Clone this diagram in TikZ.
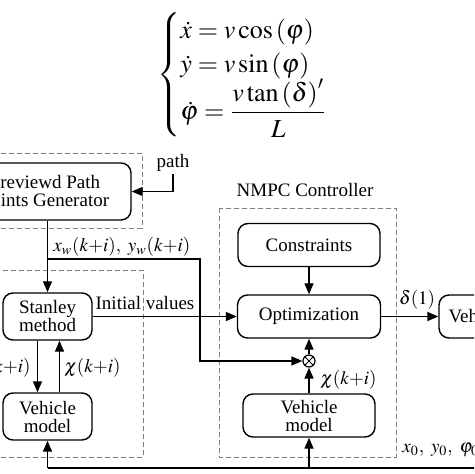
\documentclass[tikz,border=0pt]{standalone}
\usepackage{amsmath}
\usepackage{mathptmx}
\usepackage{fontspec}
\setmainfont{Liberation Serif}
\usetikzlibrary{arrows.meta}

\tikzset{
  blk/.style={draw, rounded corners=5pt, line width=0.7pt, align=center, inner sep=1pt, font=\fontsize{9.5}{9}\selectfont},
  grp/.style={draw=gray, dash pattern=on 2.5pt off 1.5pt, line width=0.4pt},
  arr/.style={-{Triangle[length=5.5pt,width=4.5pt]}, line width=0.7pt},
  lin/.style={line width=0.7pt},
  lbl/.style={font=\fontsize{9.5}{11}\selectfont, inner sep=1pt},
  mix/.style={circle, draw, line width=0.6pt, minimum size=6pt, inner sep=0pt,
    path picture={\draw[line width=0.5pt] (path picture bounding box.north west) -- (path picture bounding box.south east)
      (path picture bounding box.north east) -- (path picture bounding box.south west);}}
}

\begin{document}
\begin{tikzpicture}[x=0.5pt,y=-0.5pt]
\clip (0,0) rectangle (474,474);
\pgfmathsetmacro\lx{47.5};
\pgfmathsetmacro\rx{309};
% model equations
\node[anchor=west, inner sep=0pt, font=\fontsize{13}{15}\selectfont] (eq) at (157,75)
  {\renewcommand\arraystretch{0.8}$\begin{cases}\dot{x} = v\cos{(\varphi)}\\[-1pt] \dot{y} = v\sin{(\varphi)}\\[-2pt] \dot{\varphi} = \dfrac{v\tan{(\delta)}'}{L}\end{cases}$};
% dashed groups
\draw[grp] (-20,153) rectangle (142,228);
\draw[grp] (-20,270) rectangle (143,457);
\draw[grp] (219,208) rectangle (396,457);
\node[lbl] (nmpc) at (305,190) {NMPC Controller};
% blocks
\node[blk, minimum width=86pt, minimum height=28.5pt] (pg) at (45,191.5) {Previewd Path\\Points Generator};
\node[blk, minimum width=44.5pt, minimum height=23.5pt] (st) at (\lx,316.5) {Stanley\\method};
\node[blk, minimum width=44.5pt, minimum height=23.5pt] (vl) at (\lx,416.5) {Vehicle\\model};
\node[blk, minimum width=71pt, minimum height=21.5pt] (cs) at (\rx,245) {Constraints};
\node[blk, minimum width=71.5pt, minimum height=21.5pt] (op) at (\rx,316.5) {Optimization};
\node[blk, minimum width=66pt, minimum height=21.5pt] (vr) at (\rx,415.5) {Vehicle\\model};
\node[blk, minimum width=38pt, minimum height=21.5pt] (ve) at (477,316.5) {Vehicle};
\node[mix] (ot) at (\rx,361) {};
% inputs and labels
\node[lbl] (path) at (173,163) {path};
\node[lbl, anchor=west] (xw) at (51,247) {$x_w(k{+}i),\ y_w(k{+}i)$};
\node[lbl] (iv) at (145,303) {Initial values};
\node[lbl, anchor=east] (dk) at (33,368) {$\delta(k{+}i)$};
\node[lbl, anchor=west] (chl) at (62,368) {$\chi(k{+}i)$};
\node[lbl, anchor=west] (chr) at (318,380) {$\chi(k{+}i)$};
\node[lbl] (d1) at (417,300) {$\delta(1)$};
\node[lbl, anchor=west] (x0) at (400,450) {$x_0,\ y_0,\ \varphi_0$};
\coordinate (br) at (\lx,259);
\coordinate (bt) at (200,259);
\coordinate (fb) at (520,468);
% connectors
\draw[arr] (path.south) |- (pg.east);
\draw[arr] (pg.south -| st.north) -- (st.north);
\draw[arr] (br) -- (bt) |- (ot.west);
\draw[arr] (st.east) -- (op.west);
\draw[arr] ([xshift=-5pt]st.south) -- ([xshift=-5pt]vl.north);
\draw[arr] ([xshift=6pt]vl.north) -- ([xshift=6pt]st.south);
\draw[arr] (cs.south) -- (op.north);
\draw[arr] (ot.north) -- (op.south);
\draw[arr] (vr.north) -- (ot.south);
\draw[arr] (op.east) -- (ve.west);
\draw[lin] (fb) -- (vl.south |- fb);
\draw[arr] (vl.south |- fb) -- (vl.south);
\draw[arr] (vr.south |- fb) -- (vr.south);
\end{tikzpicture}
\end{document}
